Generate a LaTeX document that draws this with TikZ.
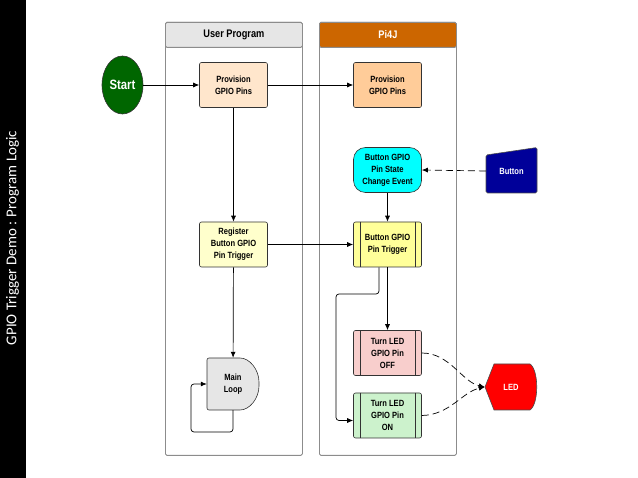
\documentclass[tikz,border=0pt]{standalone}
\usepackage{fontspec}
\setmainfont{Liberation Sans}
\newfontfamily\nar[FakeStretch=0.84]{Liberation Sans}
\newfontfamily\sidefont{Carlito}
\usetikzlibrary{arrows.meta,shapes.geometric}
\definecolor{lanegray}{HTML}{8C8C8C}
\definecolor{hdrgray}{HTML}{E6E6E6}
\definecolor{hdrorange}{HTML}{CC6600}
\definecolor{startgreen}{HTML}{006600}
\definecolor{peach}{HTML}{FFE6CC}
\definecolor{peachdark}{HTML}{FFCC99}
\definecolor{ylight}{HTML}{FFFFCC}
\definecolor{ydark}{HTML}{FFFF99}
\definecolor{pinkoff}{HTML}{F8CECC}
\definecolor{greenon}{HTML}{CCF2CC}
\definecolor{btnblue}{HTML}{000099}
\definecolor{evcyan}{HTML}{00FFFF}
\begin{document}
\begin{tikzpicture}[x=1pt,y=-1pt,
  lane/.style={draw=lanegray, line width=0.8pt, rounded corners=1.5pt, minimum width=137pt, minimum height=433pt, anchor=north west, inner sep=0pt},
  hdr/.style={draw=lanegray, line width=0.8pt, rounded corners=1.5pt, minimum width=137pt, minimum height=25pt, anchor=north west, inner sep=0pt, font=\nar\bfseries\fontsize{11}{13}\selectfont},
  box/.style={draw=black!80, line width=0.6pt, rounded corners=2pt, minimum width=68pt, minimum height=45pt, align=center, inner sep=1pt, font=\nar\bfseries\fontsize{9}{12}\selectfont},
  plain/.style={align=center, inner sep=0pt, font=\nar\bfseries\fontsize{9}{12}\selectfont},
  arr/.style={draw=black, line width=0.7pt, -{Latex[length=6pt,width=5pt]}},
  dsh/.style={dash pattern=on 7pt off 4pt}
]
\useasboundingbox (0,0) rectangle (638,478);
\fill[black] (0,0) rectangle (26,478);
\node[rotate=90, text=white, inner sep=0pt, font=\sidefont\fontsize{15}{17}\selectfont] (side) at (12.5,238) {GPIO Trigger Demo : Program Logic};

% lanes
\node[lane] (ulane) at (165,22) {};
\node[hdr, fill=hdrgray] (uhead) at (165,22) {User Program};
\node[lane] (plane) at (319,22) {};
\node[hdr, fill=hdrorange, text=white] (phead) at (319,22) {Pi4J};

% shapes drawn directly
\filldraw[fill=btnblue, draw=black!70, line width=0.6pt, rounded corners=1.5pt] (486,155) -- (537,147.5) -- (537,193) -- (486,193) -- cycle;
\filldraw[fill=red, draw=black!70, line width=0.6pt] (485,387) -- (494,364) -- (530,364) .. controls (539,370) and (539,404) .. (530,410) -- (494,410) -- cycle;
\filldraw[fill=hdrgray, draw=black!80, line width=0.6pt, rounded corners=2pt] (207,358) -- (238,358) .. controls (249.6,358) and (259,369.6) .. (259,384) .. controls (259,398.4) and (249.6,410) .. (238,410) -- (207,410) -- cycle;

% nodes
\node[ellipse, draw=black!80, line width=0.6pt, fill=startgreen, text=white, minimum width=41pt, minimum height=58pt, inner sep=0pt, font=\nar\bfseries\fontsize{13.5}{15}\selectfont] (start) at (122.5,85) {Start};
\node[box, fill=peach] (prov1) at (233.5,85) {Provision\\GPIO Pins};
\node[box, fill=peachdark] (prov2) at (387.5,85) {Provision\\GPIO Pins};
\node[box, fill=evcyan, rounded corners=12pt] (bev) at (387.5,170) {Button GPIO\\Pin State\\Change Event};
\node[box, fill=ylight] (reg) at (233.5,244.5) {Register\\Button GPIO\\Pin Trigger};
\node[box, fill=ydark] (trig) at (387.5,244.5) {Button GPIO\\Pin Trigger};
\node[box, fill=pinkoff] (off) at (387.5,353) {Turn LED\\GPIO Pin\\OFF};
\node[box, fill=greenon] (on) at (387.5,415.5) {Turn LED\\GPIO Pin\\ON};
\node[plain, minimum width=52pt, minimum height=52pt] (loop) at (233,384) {Main\\Loop};
\node[plain, text=white, minimum width=51pt, minimum height=45pt] (button) at (511.5,171) {Button};
\node[plain, text=white, minimum width=52pt, minimum height=46pt] (led) at (511,387) {LED};

% predefined-process inner lines
\foreach \n in {trig,off,on}{
  \draw[black!80, line width=0.6pt] ([xshift=7pt]\n.north west) -- ([xshift=7pt]\n.south west);
  \draw[black!80, line width=0.6pt] ([xshift=-7pt]\n.north east) -- ([xshift=-7pt]\n.south east);
}

% connectors
\draw[arr] (start) -- (prov1);
\draw[arr] (prov1) -- (prov2);
\draw[arr] (prov1) -- (reg);
\draw[arr] (reg) -- (trig);
\draw[arr] (reg) -- (loop);
\draw[arr, dsh] (button.west) -- (bev.east);
\draw[arr] (bev) -- (trig);
\draw[arr] (trig) -- (off);
\coordinate (bend) at (336,294);
\draw[arr, rounded corners=3pt] ([xshift=-8.5pt]trig.south) |- (bend) |- ([yshift=-5pt]on.west);
\coordinate (lp) at (191,432);
\draw[arr, rounded corners=3pt] (loop.south) |- (lp) |- (loop.west);
\draw[arr, dsh] (off.east) .. controls (450,353) and (462,382) .. (led.west);
\draw[arr, dsh] (on.east) .. controls (450,415) and (462,392) .. (led.west);
\end{tikzpicture}
\end{document}
